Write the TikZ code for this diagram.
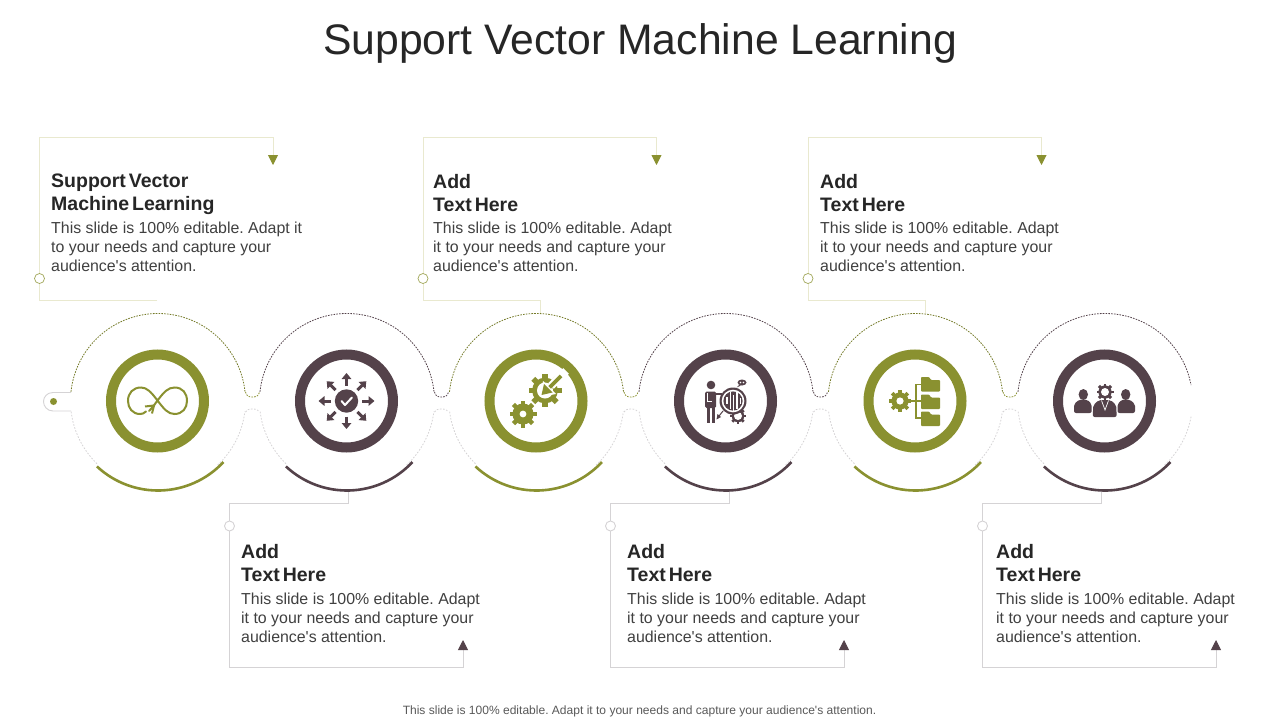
\documentclass[tikz,border=0pt]{standalone}
\usepackage{fontspec}
\setmainfont{Liberation Sans}
\usetikzlibrary{arrows.meta,calc}
\definecolor{olv}{HTML}{8A9130}
\definecolor{brn}{HTML}{54424A}
\definecolor{palel}{HTML}{E9E9CF}
\definecolor{grayl}{HTML}{D5D3D5}
\definecolor{ink}{HTML}{262626}
\definecolor{bodyc}{HTML}{404040}
\definecolor{footc}{HTML}{595959}
\newcommand{\hsp}{\hspace{-2.5pt}}
\newcommand{\aud}{audience\textquotesingle s attention.}
\newcommand{\gearicon}[5]{% x y r hole colour
  \foreach \a in {0,45,...,315}{\fill[#5,rotate around={\a:(#1,#2)}] ({#1-0.17*#3},#2) rectangle ({#1+0.17*#3},{#2+#3});}
  \fill[#5] (#1,#2) circle ({0.78*#3});
  \fill[white] (#1,#2) circle (#4);
}
\newcommand{\ringset}[6]{% idx cx colour dash-colour upper-end lower-end
  \node[ringnode,draw=#3] (ring#1) at (#2,-401) {};
  \draw[bottomarc,#3] ($(#2+0.5,-401)+(-133:89.5)$) arc (-133:-43:89.5);
  \draw[dashup,#4] ($(#2+0.5,-401)+(174:87.5)$) arc (174:#5:87.5);
  \draw[dashlow] ($(#2+0.5,-401)+(187:87.5)$) arc (187:226:87.5);
  \draw[dashlow] ($(#2+0.5,-401)+(-47:87.5)$) arc (-47:#6:87.5);
}
\newcommand{\bridge}[2]{% x-left of bridge, colour
  \draw[dashup,#2] (#1,-392) .. controls ({#1+1},-396) and ({#1+3},-397) .. ({#1+7},-397) .. controls ({#1+11},-397) and ({#1+13},-396) .. ({#1+14},-392);
  \draw[dashlow] (#1,-412) .. controls ({#1+1},-410) and ({#1+3},-409) .. ({#1+7},-409) .. controls ({#1+11},-409) and ({#1+13},-410) .. ({#1+14},-412);
}
\tikzset{
  ringnode/.style={circle,line width=10pt,minimum size=93pt,inner sep=0pt,fill=white},
  bottomarc/.style={line width=2.6pt},
  dashup/.style={line width=0.8pt,dash pattern=on 1.6pt off 1.2pt},
  dashlow/.style={line width=0.8pt,dash pattern=on 1.6pt off 1.6pt,grayl},
  toplead/.style={palel,line width=0.9pt,-{Triangle[length=10pt,width=10pt,color=olv,fill=olv]}},
  botlead/.style={grayl,line width=0.9pt,-{Triangle[length=10pt,width=10pt,color=brn,fill=brn]}},
  topdot/.style={circle,draw=olv!80!white,fill=white,line width=0.7pt,minimum size=10pt,inner sep=0pt},
  botdot/.style={circle,draw=grayl,fill=white,line width=0.9pt,minimum size=10pt,inner sep=0pt},
  headtxt/.style={anchor=north west,inner sep=0pt,align=left,text=ink,font=\fontsize{19.5}{23}\selectfont\bfseries},
  bodytxt/.style={anchor=north west,inner sep=0pt,align=left,text=bodyc,font=\fontsize{15.9}{19}\selectfont\frenchspacing},
  radial/.style={brn,line width=3pt,-{Triangle[length=6pt,width=9.5pt]}},
}
\begin{document}
\begin{tikzpicture}[x=1pt,y=1pt]
\useasboundingbox (0,0) rectangle (1280,-720);
\fill[white] (0,0) rectangle (1280,-720);

\node[anchor=center,inner sep=0pt,text=ink,font=\fontsize{42.7}{50}\selectfont] (title) at (640,-43.5) {Support Vector Machine Learning};

% leaders (top)
\coordinate (t1a) at (157,-300); \coordinate (t1b) at (39.5,-300); \coordinate (t1c) at (39.5,-137.5); \coordinate (t1d) at (273,-137.5); \coordinate (t1e) at (273,-165);
\coordinate (t2a) at (540.5,-313); \coordinate (t2z) at (540.5,-300); \coordinate (t2b) at (423,-300); \coordinate (t2c) at (423,-137.5); \coordinate (t2d) at (656.5,-137.5); \coordinate (t2e) at (656.5,-165);
\coordinate (t3a) at (925.5,-313); \coordinate (t3z) at (925.5,-300); \coordinate (t3b) at (808,-300); \coordinate (t3c) at (808,-137.5); \coordinate (t3d) at (1041.5,-137.5); \coordinate (t3e) at (1041.5,-165);
\draw[toplead] (t1a) -- (t1b) -- (t1c) -- (t1d) -- (t1e);
\draw[toplead] (t2a) -- (t2z) -- (t2b) -- (t2c) -- (t2d) -- (t2e);
\draw[toplead] (t3a) -- (t3z) -- (t3b) -- (t3c) -- (t3d) -- (t3e);
\node[topdot] (td1) at (39.5,-278.5) {};
\node[topdot] (td2) at (423,-278.5) {};
\node[topdot] (td3) at (808,-278.5) {};

% leaders (bottom)
\coordinate (b1a) at (348,-491); \coordinate (b1z) at (348,-503.5); \coordinate (b1b) at (229.5,-503.5); \coordinate (b1c) at (229.5,-667.5); \coordinate (b1d) at (463,-667.5); \coordinate (b1e) at (463,-640);
\coordinate (b2a) at (729,-491); \coordinate (b2z) at (729,-503.5); \coordinate (b2b) at (610.5,-503.5); \coordinate (b2c) at (610.5,-667.5); \coordinate (b2d) at (844,-667.5); \coordinate (b2e) at (844,-640);
\coordinate (b3a) at (1101,-491); \coordinate (b3z) at (1101,-503.5); \coordinate (b3b) at (982.5,-503.5); \coordinate (b3c) at (982.5,-667.5); \coordinate (b3d) at (1216,-667.5); \coordinate (b3e) at (1216,-640);
\draw[botlead] (b1a) -- (b1z) -- (b1b) -- (b1c) -- (b1d) -- (b1e);
\draw[botlead] (b2a) -- (b2z) -- (b2b) -- (b2c) -- (b2d) -- (b2e);
\draw[botlead] (b3a) -- (b3z) -- (b3b) -- (b3c) -- (b3d) -- (b3e);
\node[botdot] (bd1) at (229.5,-526) {};
\node[botdot] (bd2) at (610.5,-526) {};
\node[botdot] (bd3) at (982.5,-526) {};

% rings and arcs
\ringset{1}{157.5}{olv}{olv!85!black}{6}{-7}
\ringset{2}{346.5}{brn}{brn}{6}{-7}
\ringset{3}{536}{olv}{olv!85!black}{6}{-7}
\ringset{4}{725.5}{brn}{brn}{6}{-7}
\ringset{5}{915}{olv}{olv!85!black}{6}{-7}
\ringset{6}{1104.5}{brn}{brn}{10.5}{-9.5}
\bridge{245.5}{olv}
\bridge{434.5}{brn}
\bridge{624}{olv}
\bridge{813.5}{brn}
\bridge{1003}{olv}

% start tab
\draw[grayl,line width=0.9pt] (71,-392.5) -- (53,-392.5) .. controls (47,-392.5) and (43.5,-397) .. (43.5,-401.5) .. controls (43.5,-406) and (47,-411) .. (53,-411) -- (71,-411);
\node[circle,fill=olv,minimum size=7pt,inner sep=0pt] (startdot) at (53.5,-401.5) {};

% icon 1: infinity
\draw[olv,line width=2pt,line cap=round]
  (146,-411.5) .. controls (144,-413.5) and (142,-414) .. (140,-414)
  .. controls (132.5,-414) and (128,-408) .. (128,-401)
  .. controls (128,-393) and (133,-387.5) .. (141,-387.5)
  .. controls (147,-387.5) and (151,-392) .. (157.5,-400.5)
  .. controls (164,-409) and (168,-414) .. (174.5,-414)
  .. controls (182.5,-414) and (187,-408) .. (187,-401)
  .. controls (187,-393) and (182.5,-387.5) .. (174.5,-387.5)
  .. controls (168,-387.5) and (164,-392) .. (157.5,-400.5)
  .. controls (155,-404) and (153,-407) .. (149,-411);
\draw[olv,line width=2pt] (145,-406.5) -- (154,-405.5) -- (152,-413.5);

% icon 2: radial arrows
\fill[brn] (346.5,-401) circle (11.7);
\draw[white,line width=2pt,line cap=round,line join=round] (341.5,-401) -- (345,-405) -- (352,-397.5);
\foreach \a in {0,45,...,315}{
  \draw[radial] ($(346.5,-401)+(\a:15.5)$) -- ($(346.5,-401)+(\a:28)$);
}

% icon 3: gears
\gearicon{545}{-390.5}{16.5}{8}{olv}
\draw[white,line width=8pt] (566,-371) -- (551,-386);
\draw[olv,line width=3.8pt] (561,-376) -- (547,-390);
\fill[white] (540,-397) -- (543,-381) -- (556,-394) -- cycle;
\fill[olv] (541.5,-395) -- (544,-384) -- (552.5,-392.5) -- cycle;
\gearicon{523}{-414}{13.5}{3.4}{olv}

% icon 4: presenter
\fill[brn] (711,-385) circle (4.3);
\fill[brn,rounded corners=1.5pt] (705,-391.5) rectangle (716,-408);
\fill[brn] (707,-408) rectangle (710.4,-423);
\fill[brn] (711.6,-408) rectangle (715,-423);
\draw[white,line width=0.8pt] (707.5,-393) -- (707.5,-401) -- (712,-401);
\draw[brn,line width=2pt] (714,-394) -- (722,-394);
\fill[brn] (742,-382.5) ellipse (4.5 and 3);
\fill[brn] (739,-385) -- (736.5,-387.5) -- (741,-385.5) -- cycle;
\fill[white] (740.5,-382.5) circle (0.8) (743.5,-382.5) circle (0.8);
\gearicon{738}{-416}{8}{4}{brn}
\fill[brn] (733,-401) circle (13.5);
\fill[white] (733,-401) circle (11.3);
\fill[brn] (733,-401) circle (9.6);
\foreach \x/\t/\b in {726.2/404/397, 729.6/409/392, 733/411/395, 736.4/409/391, 739.8/404/398}{
  \fill[white] (\x,-\t) rectangle ({\x+1.3},-\b);
}
\draw[brn,line width=1pt] (723,-411) -- (719,-416);
\fill[brn] (716.5,-419.5) -- (717.5,-414) -- (721,-417) -- cycle;

% icon 5: folders
\gearicon{900}{-401}{11}{3.6}{olv}
\draw[olv,line width=1.3pt] (909,-401) -- (921,-401) (921,-384.5) -- (916,-384.5) -- (916,-418) -- (921,-418);
\foreach \y in {377,394.5,411.5}{
  \fill[olv,rounded corners=0.8pt] (921,-\y) -- (929,-\y) -- (931,{-\y-3}) -- (940,{-\y-3}) -- (940,{-\y-14.5}) -- (921,{-\y-14.5}) -- cycle;
}

% icon 6: team
\gearicon{1105}{-392}{8.5}{4}{brn}
\fill[brn] (1083.3,-394.5) ellipse (4.7 and 5.5);
\fill[brn] (1125.7,-394.5) ellipse (4.7 and 5.5);
\fill[brn,rounded corners=2pt] (1074,-413) -- (1074,-404) -- (1079.5,-399.5) -- (1087,-399.5) -- (1091.7,-404) -- (1091.7,-413) -- cycle;
\fill[brn,rounded corners=2pt] (1117.5,-413) -- (1117.5,-404) -- (1122,-399.5) -- (1129.5,-399.5) -- (1135,-404) -- (1135,-413) -- cycle;
\fill[brn,rounded corners=2pt] (1092.7,-417) -- (1093.3,-405) -- (1099,-400) -- (1110.5,-400) -- (1116.2,-405) -- (1116.7,-417) -- cycle;
\draw[white,line width=0.7pt] (1101.5,-400.5) -- (1105,-410) -- (1108.5,-400.5);

% texts top
\node[headtxt] (h1) at (51,-174) {Support\hsp{} Vector\\Machine\hsp{} Learning};
\node[bodytxt] (p1) at (51,-222) {This slide is 100\% editable. Adapt it\\to your needs and capture your\\\aud};
\node[headtxt] (h2) at (433,-174) {Add\\Text\hsp{} Here};
\node[bodytxt] (p2) at (433,-222) {This slide is 100\% editable. Adapt\\it to your needs and capture your\\\aud};
\node[headtxt] (h3) at (820,-174) {Add\\Text\hsp{} Here};
\node[bodytxt] (p3) at (820,-222) {This slide is 100\% editable. Adapt\\it to your needs and capture your\\\aud};
% texts bottom
\node[headtxt] (h4) at (241,-544) {Add\\Text\hsp{} Here};
\node[bodytxt] (p4) at (241,-593) {This slide is 100\% editable. Adapt\\it to your needs and capture your\\\aud};
\node[headtxt] (h5) at (627,-544) {Add\\Text\hsp{} Here};
\node[bodytxt] (p5) at (627,-593) {This slide is 100\% editable. Adapt\\it to your needs and capture your\\\aud};
\node[headtxt] (h6) at (996,-544) {Add\\Text\hsp{} Here};
\node[bodytxt] (p6) at (996,-593) {This slide is 100\% editable. Adapt\\it to your needs and capture your\\\aud};

\node[inner sep=0pt,text=footc,font=\fontsize{12.04}{14}\selectfont\frenchspacing] (foot) at (639.5,-711.5) {This slide is 100\% editable. Adapt it to your needs and capture your audience\textquotesingle s attention.};
\end{tikzpicture}
\end{document}
